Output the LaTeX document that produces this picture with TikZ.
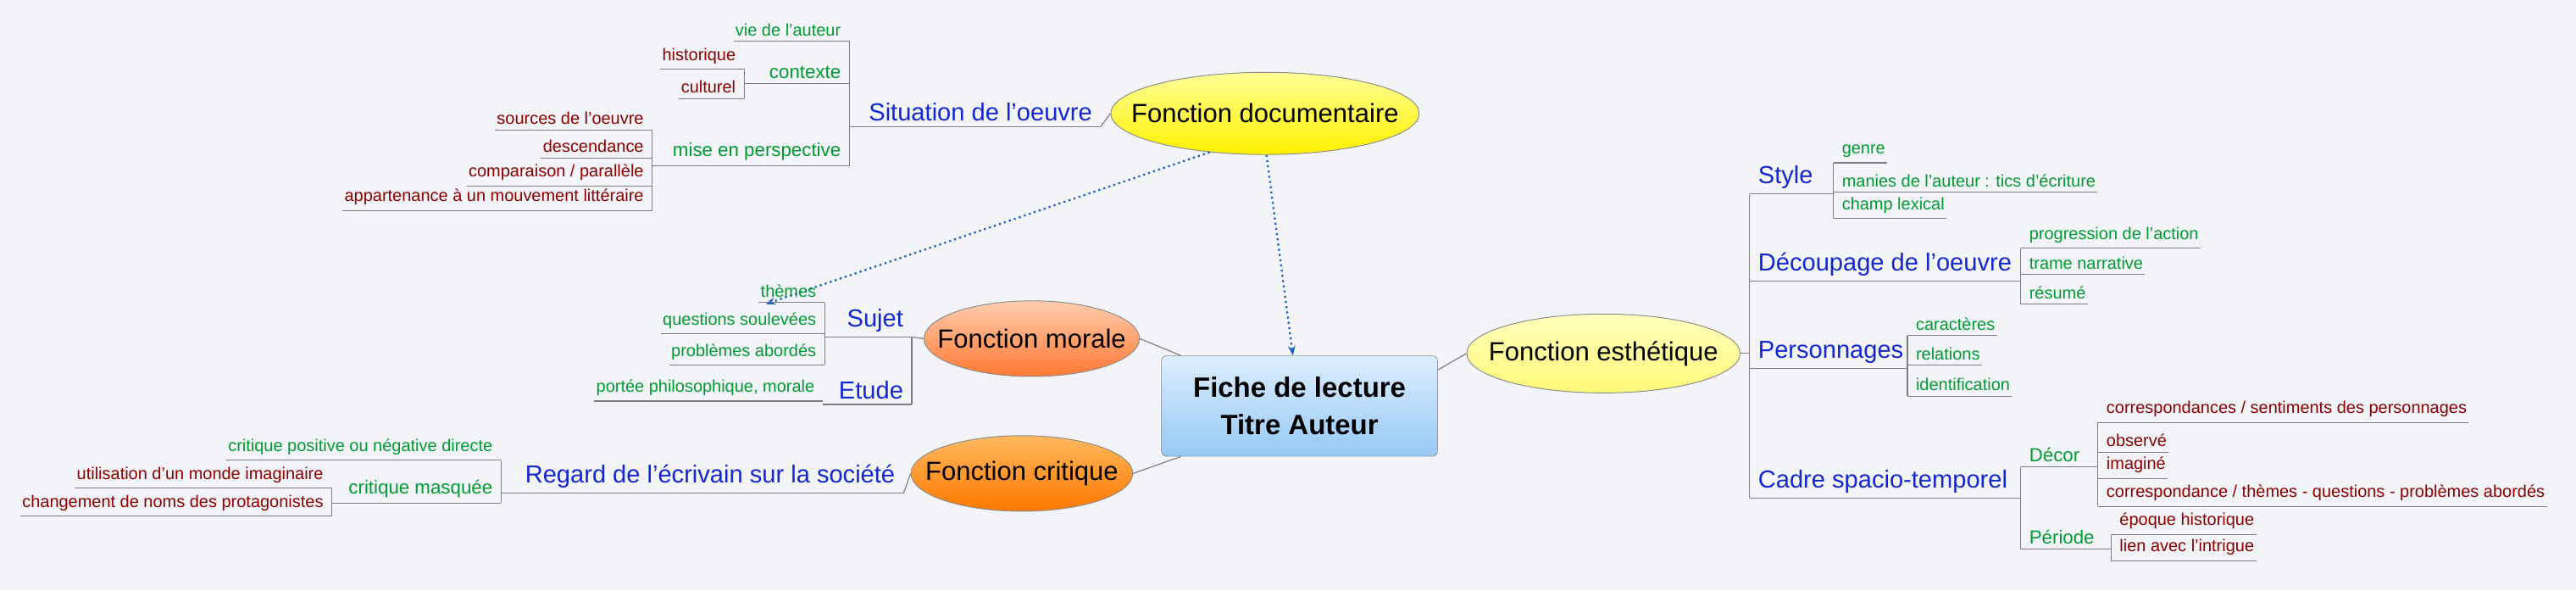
\documentclass[tikz,border=0pt]{standalone}
\usepackage{fontspec}
\setmainfont{Liberation Sans}
\usetikzlibrary{shapes.geometric,arrows.meta}
\definecolor{bg}{RGB}{243,244,248}
\definecolor{cblue}{RGB}{20,40,210}
\definecolor{cgreen}{RGB}{0,155,50}
\definecolor{cred}{RGB}{140,0,0}
\definecolor{cline}{RGB}{125,125,130}
\definecolor{carrow}{RGB}{30,100,200}
\tikzset{
  lf/.style={inner xsep=1pt,inner ysep=3pt,font=\fontsize{10.3}{12}\selectfont},
  lfg/.style={lf,text=cgreen},
  lfr/.style={lf,text=cred},
  mg/.style={lf,text=cgreen,font=\fontsize{11.5}{13}\selectfont},
  br/.style={lf,text=cblue,font=\fontsize{15}{17}\selectfont},
  ln/.style={draw=cline,line width=0.6pt},
  ell/.style={ellipse,draw=black!45,line width=0.5pt,inner ysep=0pt,font=\fontsize{16}{18}\selectfont},
  dotarr/.style={draw=carrow,line width=1.2pt,dotted,-{Stealth[length=6pt]}}
}
\newcommand\LL[5][lfg]{\node[#1,anchor=south east] (#2) at ({#3-4},#4) {#5}; \draw[ln] (#2.south west) -- (#3,#4);}
\newcommand\RR[5][lfg]{\node[#1,anchor=south west] (#2) at ({#3+4},#4) {#5}; \draw[ln] (#3,#4) -- (#2.south east);}
\begin{document}
\begin{tikzpicture}[x=1pt,y=-1pt]
\fill[bg] (0,0) rectangle (1568,359);
\useasboundingbox (0,0) rectangle (1568,359);

% central nodes
\node[draw=black!40,rounded corners=3pt,top color={rgb,255:red,220;green,238;blue,255},bottom color={rgb,255:red,150;green,200;blue,245},minimum width=168pt,minimum height=61pt,align=center,font=\fontsize{17}{23}\selectfont\bfseries] (root) at (791,247) {Fiche de lecture\\Titre Auteur};
\node[ell,inner xsep=-15pt,minimum height=50pt,top color={rgb,255:red,255;green,255;blue,150},bottom color={rgb,255:red,255;green,240;blue,0}] (doc) at (770,69) {Fonction documentaire};
\node[ell,inner xsep=-11pt,minimum height=48pt,top color={rgb,255:red,255;green,255;blue,190},bottom color={rgb,255:red,255;green,250;blue,120}] (esth) at (976,215) {Fonction esthétique};
\node[ell,inner xsep=-11pt,minimum height=46pt,top color={rgb,255:red,255;green,205;blue,175},bottom color={rgb,255:red,255;green,120;blue,50}] (mor) at (628,206) {Fonction morale};
\node[ell,inner xsep=-11pt,minimum height=46pt,top color={rgb,255:red,255;green,185;blue,95},bottom color={rgb,255:red,255;green,120;blue,0}] (crit) at (622,288) {Fonction critique};

\draw[ln] (root.north west) ++(12,0) -- (mor.east);
\draw[ln] (root.south west) ++(12,0) -- (crit.east);
\draw[ln] (root.east) ++(0,-22) -- (esth.west);

\draw[dotarr] (doc.-145) -- (466,185);
\draw[dotarr] (doc.-88) -- (root.north -| 787,0);

% documentaire
\LL[br]{sit}{670}{77}{Situation de l'oeuvre}
\draw[ln] (517,77) -- (sit.south west);
\draw[ln] (670,77) -- (doc.west);
\draw[ln] (517,25) -- (517,101);
\LL{vie}{517}{25}{vie de l'auteur}
\LL[mg]{ctx}{517}{51}{contexte}
\draw[ln] (453,51) -- (ctx.south west);
\draw[ln] (453,42) -- (453,60);
\LL[lfr]{hist}{453}{42}{historique}
\LL[lfr]{cult}{453}{60}{culturel}
\LL[mg]{mise}{517}{101}{mise en perspective}
\draw[ln] (397,101) -- (mise.south west);
\draw[ln] (397,79) -- (397,128);
\LL[lfr]{src}{397}{79}{sources de l'oeuvre}
\LL[lfr]{desc}{397}{96}{descendance}
\LL[lfr]{comp}{397}{113}{comparaison / parallèle}
\LL[lfr]{app}{397}{128}{appartenance à un mouvement littéraire}

% morale
\draw[ln] (555,205) -- (mor.west);
\draw[ln] (555,205) -- (555,246);
\LL[br]{suj}{555}{205}{Sujet}
\draw[ln] (502,205) -- (suj.south west);
\draw[ln] (502,184) -- (502,222);
\LL{them}{502}{184}{thèmes}
\LL{quest}{502}{203}{questions soulevées}
\LL{prob}{502}{222}{problèmes abordés}
\LL[br]{etu}{555}{246}{Etude}
\draw[ln] (501,246) -- (etu.south west);
\LL{port}{501}{244}{portée philosophique, morale}

% critique
\LL[br]{reg}{550}{300}{Regard de l'écrivain sur la société}
\draw[ln] (305,300) -- (reg.south west);
\draw[ln] (550,300) -- (crit.west);
\draw[ln] (305,280) -- (305,306);
\LL{cpos}{305}{280}{critique positive ou négative directe}
\LL[mg]{cmas}{305}{306}{critique masquée}
\draw[ln] (202,306) -- (cmas.south west);
\draw[ln] (202,297) -- (202,314);
\LL[lfr]{util}{202}{297}{utilisation d'un monde imaginaire}
\LL[lfr]{chg}{202}{314}{changement de noms des protagonistes}

% esthetique
\draw[ln] (esth.east) -- (1065,215);
\draw[ln] (1065,118) -- (1065,303);
\RR[br]{sty}{1065}{118}{Style}
\draw[ln] (sty.south east) -- (1116,118);
\draw[ln] (1116,99) -- (1116,133);
\RR{gen}{1116}{99}{genre}
\RR{man}{1116}{117}{manies de l'auteur : tics d'écriture}
\RR{chp}{1116}{133}{champ lexical}
\RR[br]{dec}{1065}{171}{Découpage de l'oeuvre}
\draw[ln] (dec.south east) -- (1230,171);
\draw[ln] (1230,151) -- (1230,185);
\RR{prog}{1230}{151}{progression de l'action}
\RR{tram}{1230}{167}{trame narrative}
\RR{res}{1230}{185}{résumé}
\RR[br]{pers}{1065}{224}{Personnages}
\draw[ln] (pers.south east) -- (1161,224);
\draw[ln] (1161,204) -- (1161,241);
\RR{car}{1161}{204}{caractères}
\RR{rel}{1161}{222}{relations}
\RR{ident}{1161}{241}{identification}
\RR[br]{cad}{1065}{303}{Cadre spacio-temporel}
\draw[ln] (cad.south east) -- (1230,303);
\draw[ln] (1230,284) -- (1230,334);
\RR[mg]{decor}{1230}{284}{Décor}
\draw[ln] (decor.south east) -- (1277,284);
\draw[ln] (1277,257) -- (1277,308);
\RR[lfr]{cor1}{1277}{257}{correspondances / sentiments des personnages}
\RR[lfr]{obs}{1277}{275}{observé}
\RR[lfr]{ima}{1277}{291}{imaginé}
\RR[lfr]{cor2}{1277}{308}{correspondance / thèmes - questions - problèmes abordés}
\RR[mg]{per}{1230}{334}{Période}
\draw[ln] (per.south east) -- (1285,334);
\draw[ln] (1285,325) -- (1285,341);
\RR[lfr]{epo}{1285}{325}{époque historique}
\RR[lfr]{lien}{1285}{341}{lien avec l'intrigue}
\end{tikzpicture}
\end{document}
